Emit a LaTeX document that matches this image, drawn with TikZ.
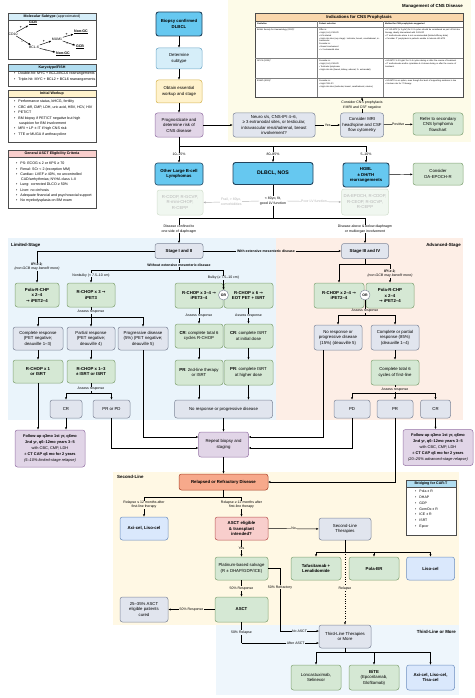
\documentclass[tikz,border=0pt]{standalone}
\usepackage{fontspec}
\setmainfont{Liberation Sans}
\newfontfamily\symf{DejaVu Sans}
\usetikzlibrary{arrows.meta,positioning,calc}

\definecolor{cnsbg}{HTML}{FDFBE8}
\definecolor{limbg}{HTML}{EAF4FB}
\definecolor{advbg}{HTML}{FDEEE6}
\definecolor{secbg}{HTML}{FFF8E4}
\definecolor{thrbg}{HTML}{EEF6FC}
\definecolor{dxfill}{HTML}{66C8F0}
\definecolor{dxline}{HTML}{23445D}
\definecolor{subfill}{HTML}{D6EEF9}
\definecolor{subline}{HTML}{6FA8C8}
\definecolor{wkfill}{HTML}{FFF2CC}
\definecolor{wkline}{HTML}{D6B656}
\definecolor{prfill}{HTML}{E1D5E7}
\definecolor{prline}{HTML}{9673A6}
\definecolor{gyfill}{HTML}{E1E5EE}
\definecolor{gyline}{HTML}{7F8799}
\definecolor{rxfill}{HTML}{D5E8D4}
\definecolor{rxline}{HTML}{82A374}
\definecolor{rrfill}{HTML}{F7A98B}
\definecolor{rrline}{HTML}{A8432B}
\definecolor{pkfill}{HTML}{F8CECC}
\definecolor{pkline}{HTML}{B85450}
\definecolor{ctfill}{HTML}{DAE8FC}
\definecolor{ctline}{HTML}{6C8EBF}
\definecolor{hdblue}{HTML}{B1DDF0}
\definecolor{hdorange}{HTML}{FAD7AC}
\definecolor{fadetxt}{HTML}{B4B4B4}

\newcommand{\fmn}{\fontsize{4.3}{5.5}\selectfont}
\newcommand{\fbg}{\fontsize{5.2}{6}\selectfont}
\newcommand{\fsm}{\fontsize{3.5}{4.3}\selectfont}
\newcommand{\fpn}{\fontsize{3.6}{5.4}\selectfont}
\newcommand{\ftn}{\fontsize{2.1}{2.8}\selectfont}
\newcommand{\ftl}{\fontsize{4.4}{5}\selectfont}
\newcommand{\ffu}{\fontsize{3.9}{5.9}\selectfont}
\newcommand{\sge}{≥}
\newcommand{\sle}{≤}
\newcommand{\sra}{{\symf →}}

\tikzset{
    box/.style={
    rectangle,rounded corners=2.5pt,line width=0.5pt,align=center,inner sep=1pt,font=\fmn
    },
    sz/.style 2 args={minimum width=#1pt,minimum height=#2pt},
    dxbox/.style={box,fill=dxfill,draw=dxline,line width=0.9pt,font=\fmn\bfseries},
    subbox/.style={box,fill=subfill,draw=subline},
    wkbox/.style={box,fill=wkfill,draw=wkline},
    prbox/.style={box,fill=prfill,draw=prline},
    fubox/.style={box,fill=prfill,draw=prline,font=\ffu},
    gybox/.style={box,fill=gyfill,draw=gyline},
    rxbox/.style={box,fill=rxfill,draw=rxline},
    rxbold/.style={rxbox,font=\fmn\bfseries},
    rrbox/.style={box,fill=rrfill,draw=rrline,font=\fmn\bfseries},
    pkbox/.style={box,fill=pkfill,draw=pkline,font=\fmn\bfseries},
    ctbox/.style={box,fill=ctfill,draw=ctline,font=\fmn\bfseries},
    fadebox/.style={box,fill=rxfill!35,draw=rxline!35,text=fadetxt},
    lbl/.style={font=\fsm,inner sep=0.6pt,align=center,fill=white},
    fadelbl/.style={lbl,text=fadetxt},
    fadeline/.style={draw=fadetxt},
    orbox/.style={circle,draw=gyline,fill=white,inner sep=0pt,minimum size=10pt,font=\fsm\bfseries},
    ttl/.style={font=\ftl\bfseries,inner sep=0pt},
    panel/.style={rectangle,draw=black!70,line width=0.4pt,fill=white,minimum width=88pt},
    panelhd/.style={rectangle,draw=black!70,line width=0.4pt,minimum width=88pt,minimum height=7pt,inner sep=0pt,font=\fpn\bfseries},
    bullets/.style={font=\fpn,align=left,inner sep=0pt},
    tree/.style={font=\fsm,inner sep=0.5pt},
    treeout/.style={font=\fpn\bfseries,inner sep=0.5pt},
    sgn/.style={font=\fsm\bfseries,inner sep=0.3pt},
    cell/.style={font=\ftn,align=left,inner sep=0pt,anchor=north west},
}

\begin{document}
\begin{tikzpicture}[x=1pt,y=-1pt,>={Latex[length=2.4pt,width=2.2pt]},line width=0.45pt]
   \useasboundingbox (0,0) rectangle (474,698);
   % areas
   \fill[cnsbg] (228,0) rectangle (471,142);
   \fill[limbg] (8,238) rectangle (276,420);
   \fill[advbg] (276,238) rectangle (463,420);
   \fill[secbg] (113,472) rectangle (459,625);
   \fill[thrbg] (216,625) rectangle (459,695);
   \node[ttl,anchor=east] (CNSTTL) at (463,6) {Management of CNS Disease};
   \node[ttl,anchor=west] (LIMTTL) at (11,245) {Limited-Stage};
   \node[ttl,anchor=east] (ADVTTL) at (461,245) {Advanced-Stage};
   \node[ttl,anchor=west] (SECTTL) at (117,477) {Second-Line};
   \node[ttl,anchor=east] (THRTTL) at (456,632) {Third-Line or More};

   % side panels
   \node[panel,minimum height=46pt] (MOL) at (52,36) {};
   \node[panelhd,fill=subfill,anchor=north] (MOLHD) at (MOL.north) {Molecular Subtype {\mdseries\fsm (approximated)}};
   \node[tree] (CD10) at (13,34) {CD10};
   \node[treeout] (GCBA) at (33,23) {\underline{GCB}};
   \node[tree] (BCL6) at (34,47) {BCL-6};
   \node[tree] (MUM1) at (57,39) {MUM1};
   \node[treeout] (NONGCA) at (81,32) {\underline{Non-GC}};
   \node[treeout] (GCBB) at (80,47) {\underline{GCB}};
   \node[treeout] (NONGCB) at (63,54) {\underline{Non-GC}};
   \path[->]
             (CD10)  edge node[sgn,above left] {+} (GCBA)
                     edge node[sgn,below left] {--} (BCL6)
             (BCL6)  edge node[sgn,above left] {+} (MUM1)
                     edge node[sgn,below left] {--} (NONGCB)
             (MUM1)  edge node[sgn,above left] {+} (NONGCA)
                     edge node[sgn,below left] {--} (GCBB);

   \node[panel,minimum height=22pt] (KARYO) at (52,75) {};
   \node[panelhd,fill=hdblue,anchor=north] (KARYOHD) at (KARYO.north) {Karyotype/FISH};
   \node[bullets,anchor=north west] (KARYOTXT) at (14,72) {\textbullet\hspace{3pt}Double-hit: MYC + BCL2/BCL6 rearrangements\\\textbullet\hspace{3pt}Triple-hit: MYC + BCL2 + BCL6 rearrangements};

   \node[panel,minimum height=52pt] (WORK) at (52,116) {};
   \node[panelhd,fill=wkfill,anchor=north] (WORKHD) at (WORK.north) {Initial Workup};
   \node[bullets,anchor=north west] (WORKTXT) at (14,100) {\textbullet\hspace{3pt}Performance status, bHCG, fertility\\
     \textbullet\hspace{3pt}CBC diff, CMP, LDH, uric acid, HBV, HCV, HIV\\
     \textbullet\hspace{3pt}PET/CT\\
     \textbullet\hspace{3pt}BM biopsy if PET/CT negative but high\\\hspace*{5pt}suspicion for BM involvement\\
     \textbullet\hspace{3pt}MRI + LP ± IT if high CNS risk\\
     \textbullet\hspace{3pt}TTE or MUGA if anthracycline};

   \node[panel,minimum height=58pt] (ELIG) at (52,179) {};
   \node[panelhd,fill=pkfill,anchor=north] (ELIGHD) at (ELIG.north) {General ASCT Eligibility Criteria};
   \node[bullets,anchor=north west,font=\fontsize{3.6}{5.3}\selectfont] (ELIGTXT) at (16,162) {\textbullet\hspace{3pt}PS: ECOG \sle\ 2 or KPS \sge\ 70\\
     \textbullet\hspace{3pt}Renal: SCr < 2 (exception MM)\\
     \textbullet\hspace{3pt}Cardiac: LVEF \sge\ 40\%, no uncontrolled\\\hspace*{5pt}CAD/arrhythmias; NYHA class I--II\\
     \textbullet\hspace{3pt}Lung: corrected DLCO \sge\ 50\%\\
     \textbullet\hspace{3pt}Liver: no cirrhosis\\
     \textbullet\hspace{3pt}Adequate financial and psychosocial support\\
     \textbullet\hspace{3pt}No myelodysplasia on BM exam};

   % CNS prophylaxis table
   \node[panel,minimum width=208pt,minimum height=84pt] (CNSTAB) at (359,55) {};
   \node[panelhd,fill=hdorange,minimum width=208pt,minimum height=8pt,anchor=north,font=\fmn\bfseries] (CNSHD) at (CNSTAB.north) {Indications for CNS Prophylaxis};
   \draw[black!50,line width=0.3pt] (255,27) -- (463,27) (255,58) -- (463,58) (255,78) -- (463,78)
        (317,21) -- (317,97) (383,21) -- (383,97);
   \node[cell,font=\ftn\bfseries] (COLA) at (257,22.5) {Guideline};
   \node[cell,font=\ftn\bfseries] (COLB) at (319,22.5) {Patient selection};
   \node[cell,font=\ftn\bfseries] (COLC) at (385,22.5) {Method for CNS prophylaxis suggested};
   \node[cell,text width=57pt] (GLA) at (257,29) {British Society for Haematology (2020)*};
   \node[cell,text width=62pt] (SELA) at (319,29) {Offer in:\\\textbullet\ High (4--6) CNS-IPI\\\textbullet\ HIV-related\\\textbullet\ High risk sites (any stage): testicular, breast, renal/adrenal, intravascular\\Consider in:\\\textbullet\ Breast involvement\\\textbullet\ \sge\ 2 extranodal sites};
   \node[cell,text width=76pt] (METHA) at (385,29) {\textbullet\ IV HD-MTX (\sge\ 3 g/m²) for 2--3 cycles should be considered as part of first-line therapy, ideally intercalated with R-CHOP\\\textbullet\ IT methotrexate alone is not recommended (limited efficacy data)\\\textbullet\ Consider IT prophylaxis in patients unable to tolerate HD-MTX};
   \node[cell,text width=57pt] (GLB) at (257,60) {NCCN (2023)*};
   \node[cell,text width=62pt] (SELB) at (319,60) {Consider in:\\\textbullet\ High (4--6) CNS-IPI\\\textbullet\ Testicular lymphoma\\\textbullet\ High risk site (breast, kidney, adrenal, 2+ extranodal)};
   \node[cell,text width=76pt] (METHB) at (385,60) {\textbullet\ HD-MTX 3--3.5 g/m² for 2--4 cycles during or after the course of treatment\\\textbullet\ IT methotrexate and/or cytarabine 4--8 doses during or after the course of treatment};
   \node[cell,text width=57pt] (GLC) at (257,80) {ESMO (2015)*};
   \node[cell,text width=62pt] (SELC) at (319,80) {Consider in:\\\textbullet\ High CNS-IPI\\\textbullet\ High risk sites (testicular, breast, renal/adrenal, uterine)};
   \node[cell,text width=76pt] (METHC) at (385,80) {\textbullet\ HD-MTX is an option, even though the level of supporting evidence is low\\\textbullet\ Unclear role for IT therapy};

   % diagnosis
   \node[dxbox,sz={46}{24}] (BIOPSY) at (179,24) {Biopsy confirmed\\DLBCL};
   \node[subbox,sz={46}{21}] (SUBTYPE) at (179,58.5) {Determine\\subtype};
   \node[wkbox,sz={46}{23}] (WORKUP) at (179,91.5) {Obtain essential\\workup and stage};
   \node[prbox,sz={48}{24}] (PROGN) at (179,125) {Prognosticate and\\determine risk of\\CNS disease};
   \node[gybox,sz={82}{24}] (NEURO) at (274,125) {Neuro s/s, CNS-IPI 4--6,\\\sge\ 3 extranodal sites, or testicular,\\intravascular renal/adrenal, breast\\involvement?};
   \node[gybox,sz={43}{24}] (MRI) at (362,125) {Consider MRI\\head/spine and CSF\\flow cytometry};
   \node[rxbox,sz={50}{22}] (REFER) at (438,124) {Refer to secondary\\CNS lymphoma\\flowchart};

   \path[->] (BIOPSY) edge (SUBTYPE)
             (SUBTYPE) edge (WORKUP)
             (WORKUP) edge (PROGN)
             (PROGN) edge (NEURO)
             (NEURO) edge node[lbl,fill=cnsbg] {Yes} (MRI)
             (MRI) edge node[lbl,fill=cnsbg] {Positive} (REFER);
   \draw[->] (MRI.north) -- node[lbl,fill=cnsbg] {Consider CNS prophylaxis\\if MRI and CSF negative} (MRI.north |- CNSTAB.south);

   \node[dxbox,sz={48}{22},line width=0.6pt] (OTHER) at (179,174) {Other Large B-cell\\Lymphomas};
   \node[dxbox,sz={80}{22},font=\fbg\bfseries] (DLBCL) at (273,173.5) {DLBCL, NOS};
   \node[dxbox,sz={46}{24}] (HGBL) at (366,175) {HGBL\\± DH/TH\\rearrangements};
   \node[rxbox,sz={50}{22}] (DAEPOCH) at (438,174) {Consider\\DA-EPOCH-R};
   \coordinate (SPLIT) at (179,146);
   \draw (PROGN) -- (SPLIT);
   \draw[->] (SPLIT) -- node[lbl] {10--15\%} (OTHER);
   \draw[->] (SPLIT) -| node[lbl,pos=0.75] {80--85\%} (DLBCL.north);
   \draw[->] (SPLIT) -| node[lbl,pos=0.75] {5--10\%} (HGBL.north);
   \draw[->] (HGBL) -- (DAEPOCH);

   \node[fadebox,sz={46}{25}] (FADEL) at (180,202.5) {R-CDOP, R-GCVP,\\R-mini-CHOP,\\R-CEPP};
   \node[fadebox,sz={47}{26}] (FADER) at (365,202) {DA-EPOCH, R-CDOP,\\R-CEOP, R-GCVP,\\R-CEPP};
   \node[lbl] (FIT) at (273,201) {< 80yo, fit,\\good LV function};
   \coordinate (SPLITB) at (273,218);
   \draw (DLBCL) -- (FIT);
   \draw (FIT) -- (SPLITB);
   \draw[fadeline,->] (FIT.west) -- node[fadelbl] {Frail, > 80yo,\\comorbidities} (FADEL.east);
   \draw[fadeline,->] (FIT.east) -- node[fadelbl] {Poor LV function} (FADER.west);

   % staging
   \node[gybox,sz={48}{15},font=\fmn\bfseries] (STAGEA) at (179,251) {Stage I and II};
   \node[gybox,sz={47}{15},font=\fmn\bfseries] (STAGEB) at (365,251) {Stage III and IV};
   \draw[->] (SPLITB) -| node[lbl,pos=0.72] {Disease confined to\\one side of diaphragm} (STAGEA.north);
   \draw[->] (SPLITB) -| node[lbl,pos=0.72] {Disease above \& below diaphragm\\or multiorgan involvement} (STAGEB.north);
   \node[lbl,fill=none,font=\fsm\bfseries] (MESEN) at (266,251) {With extensive mesenteric disease};
   \draw (STAGEA) -- (MESEN);
   \draw[->] (MESEN) -- (STAGEB);

   % limited stage
   \node[lbl,fill=none,font=\fsm\bfseries] (NOMES) at (179,265) {Without extensive mesenteric disease};
   \coordinate (BULKJ) at (179,270);
   \draw (STAGEA) -- (NOMES);
   \draw (NOMES) -- (BULKJ);
   \node[rxbold,sz={44}{24}] (POLAA) at (37,295) {Pola-R-CHP\\x 2--4\\\sra\ iPET2--4};
   \node[rxbold,sz={48}{24}] (RCHOPA) at (91,295) {R-CHOP x 3 \sra\\iPET3};
   \node[rxbold,sz={48}{25}] (RCHOPB) at (199,295.5) {R-CHOP x 3--4 \sra\\iPET3--4};
   \node[rxbold,sz={49}{25}] (RCHOPC) at (248.5,295.5) {R-CHOP x 6 \sra\\EOT PET + ISRT};
   \node[orbox] (ORA) at (223.5,295) {OR};
   \draw[->] (STAGEA.west) -| node[lbl,fill=limbg,pos=0.75] {\textbf{IPI \sge\ 2;}\\\textit{(non-GCB may benefit more)}} (POLAA.north);
   \draw[->] (BULKJ) -| node[lbl,fill=limbg,pos=0.7] {Nonbulky (< 7.5--10 cm)} (RCHOPA.north);
   \draw[->] (BULKJ) -| node[lbl,fill=limbg,pos=0.7] {Bulky (\sge\ 7.5--10 cm)} (ORA.north);

   \node[lbl,fill=limbg] (ASSLA) at (91,312) {Assess response};
   \coordinate (RESPJA) at (91,317);
   \draw (RCHOPA) -- (ASSLA);
   \draw (ASSLA) -- (RESPJA);
   \node[gybox,sz={50}{23}] (CRESP) at (38,338.5) {Complete response\\(PET negative;\\deauville 1--3)};
   \node[gybox,sz={48}{23}] (PRESP) at (91,338.5) {Partial response\\(PET negative;\\deauville 4)};
   \node[gybox,sz={50}{23}] (PROG) at (143,338.5) {Progressive disease\\(5\%) (PET negative;\\deauville 5)};
   \draw[->] (RESPJA) -| (CRESP.north);
   \draw[->] (RESPJA) -- (PRESP);
   \draw[->] (RESPJA) -| (PROG.north);
   \node[rxbold,sz={50}{23}] (RCHOPD) at (38,371.5) {R-CHOP x 1\\or ISRT};
   \node[rxbold,sz={48}{23}] (RCHOPE) at (91,371.5) {R-CHOP x 1--3\\± ISRT or ISRT};
   \draw[->] (CRESP) -- (RCHOPD);
   \draw[->] (PRESP) -- (RCHOPE);
   \node[lbl,fill=limbg] (ASSLB) at (91,389) {Assess response};
   \coordinate (RESPJB) at (91,393);
   \draw (RCHOPE) -- (ASSLB);
   \draw (ASSLB) -- (RESPJB);
   \node[gybox,sz={32}{18}] (CRL) at (66,409) {CR};
   \node[gybox,sz={37}{18}] (PRPD) at (111.5,409) {PR or PD};
   \draw[->] (RESPJB) -| (CRL.north);
   \draw[->] (RESPJB) -| (PRPD.north);
   \node[fubox,sz={70}{37}] (FOLLOWA) at (50,448.5) {\textbf{Follow-up q3mo 1st yr, q6mo}\\\textbf{2nd yr, q6--12mo years 3--5}\\with CBC, CMP, LDH\\± \textbf{CT CAP q6 mo for 2 years}\\\textit{(5--10\% limited-stage relapse)}};
   \draw[->] (RCHOPD) -- (RCHOPD |- FOLLOWA.north);
   \draw[->] (CRL) -- (CRL |- FOLLOWA.north);

   \node[lbl,fill=limbg] (ASSBA) at (199,316) {Assess response};
   \node[lbl,fill=limbg] (ASSBB) at (248.5,316) {Assess response};
   \node[rxbox,sz={48}{24}] (CRSIX) at (199,336) {\textbf{CR}: complete total 6\\cycles R-CHOP};
   \node[rxbox,sz={49}{24}] (CRISRT) at (248.5,336) {\textbf{CR}: complete ISRT\\at initial dose};
   \node[rxbox,sz={48}{25}] (PRSEC) at (199,372.5) {\textbf{PR}: 2nd-line therapy\\or ISRT};
   \node[rxbox,sz={49}{25}] (PRISRT) at (248.5,372.5) {\textbf{PR}: complete ISRT\\at higher dose};
   \node[gybox,sz={98}{18}] (NORESPA) at (223.5,409) {No response or progressive disease};
   \node[prbox,sz={50}{25}] (REPEAT) at (223.5,444.5) {Repeat biopsy and\\staging};
   \draw (RCHOPB) -- (ASSBA);
   \draw (RCHOPC) -- (ASSBB);
   \path[->] (ASSBA) edge (CRSIX)
             (ASSBB) edge (CRISRT)
             (CRSIX) edge (PRSEC)
             (CRISRT) edge (PRISRT)
             (PRSEC) edge (PRSEC |- NORESPA.north)
             (PRISRT) edge (PRISRT |- NORESPA.north)
             (NORESPA) edge (REPEAT);
   \coordinate (REPINA) at (198.5,437);
   \coordinate (REPINB) at (198.5,448);
   \coordinate (REPINC) at (248.5,437);
   \coordinate (REPIND) at (248.5,448);
   \draw[->] (PROG) |- (REPINA);
   \draw[->] (PRPD) |- (REPINB);

   % advanced stage
   \coordinate (IPIJ) at (365,264);
   \node[rxbold,sz={50}{25}] (RCHOPF) at (339,295.5) {R-CHOP x 2--4 \sra\\iPET2--4};
   \node[rxbold,sz={48}{25}] (POLAB) at (390,295.5) {Pola-R-CHP\\x 2--4\\\sra\ iPET2--4};
   \node[orbox] (ORB) at (365,295) {OR};
   \draw (STAGEB) -- (IPIJ);
   \draw[->] (IPIJ) -| (RCHOPF.north);
   \draw[->] (IPIJ) -| node[lbl,fill=advbg,pos=0.75] {\textbf{IPI \sge\ 2;}\\\textit{(non-GCB may benefit more)}} (POLAB.north);
   \node[lbl,fill=advbg] (ASSAA) at (365,311) {Assess response};
   \coordinate (ADVJA) at (365,315.5);
   \draw (ORB) -- (ASSAA);
   \draw (ASSAA) -- (ADVJA);
   \node[gybox,sz={48}{25}] (NORESPB) at (338,337.5) {No response or\\progressive disease\\(15\%) (deauville 5)};
   \node[gybox,sz={48}{25}] (CPR) at (395,337.5) {Complete or partial\\response (85\%)\\(deauville 1--4)};
   \draw[->] (ADVJA) -| (NORESPB.north);
   \draw[->] (ADVJA) -| (CPR.north);
   \node[rxbox,sz={48}{25}] (SIXCYC) at (395,372.5) {Complete total 6\\cycles of first-line};
   \draw[->] (CPR) -- (SIXCYC);
   \node[lbl,fill=advbg] (ASSAB) at (395,389.5) {Assess response};
   \coordinate (ADVJB) at (395,393.5);
   \draw (SIXCYC) -- (ASSAB);
   \draw (ASSAB) -- (ADVJB);
   \node[gybox,sz={36}{18}] (PDA) at (352,409) {PD};
   \node[gybox,sz={36}{18}] (PRA) at (395,409) {PR};
   \node[gybox,sz={30}{18}] (CRA) at (435.5,409) {CR};
   \draw[->] (ADVJB) -| (PDA.north);
   \draw[->] (ADVJB) -- (PRA);
   \draw[->] (ADVJB) -| (CRA.north);
   \node[fubox,sz={70}{36}] (FOLLOWB) at (438,447.5) {\textbf{Follow-up q3mo 1st yr, q6mo}\\\textbf{2nd yr, q6--12mo years 3--5}\\with CBC, CMP, LDH\\± \textbf{CT CAP q6 mo for 2 years}\\\textit{(20--25\% advanced-stage relapse)}};
   \draw[->] (CRA) -- (CRA |- FOLLOWB.north);
   \coordinate (NRBOUT) at (323,350);
   \draw[->] (NRBOUT) |- (REPINC);
   \draw[->] (PDA) |- (REPIND);

   % relapsed / refractory
   \node[rrbox,sz={89}{16}] (RELAPSE) at (223.5,482) {Relapsed or Refractory Disease};
   \coordinate (RELIN) at (268,482);
   \draw[->] (REPEAT) -- (RELAPSE);
   \draw[->] (PRA) |- (RELIN);
   \coordinate (RELJ) at (223.5,497);
   \draw (RELAPSE) -- (RELJ);
   \node[ctbox,sz={48}{23}] (AXIA) at (144,528.5) {Axi-cel, Liso-cel};
   \node[pkbox,sz={53}{23}] (ASCTQ) at (241.5,528.5) {ASCT eligible\\\& transplant\\intended?};
   \draw[->] (RELJ) -| node[lbl,fill=secbg,pos=0.7] {Relapse \sle\ 12 months after\\first-line therapy} (AXIA.north);
   \draw[->] (RELJ) -| node[lbl,fill=secbg,pos=0.7] {Relapse \sge\ 12 months after\\first-line therapy} (ASCTQ.north);
   \node[gybox,sz={52}{22}] (SECOND) at (345,529) {Second-Line\\Therapies};
   \node[rxbox,sz={53}{23}] (PLAT) at (241.5,568.5) {Platinum-based salvage\\(R ± DHAP/GDP/ICE)};
   \node[rxbold,sz={53}{25}] (ASCT) at (241.5,609.5) {ASCT};
   \node[gybox,sz={48}{25}] (CURED) at (144,609.5) {25--35\% ASCT\\eligible patients\\cured};
   \path[->] (ASCTQ) edge node[lbl,fill=secbg] {No} (SECOND)
             (ASCTQ) edge node[lbl,fill=secbg] {Yes} (PLAT)
             (PLAT) edge node[lbl,fill=secbg] {50\% Response} (ASCT)
             (ASCT) edge node[lbl,fill=secbg] {50\% Response} (CURED);

   \node[box,fill=white,draw=black!70,line width=0.4pt,rounded corners=0pt,sz={50}{55}] (BRIDGE) at (431,507.5) {};
   \node[panelhd,fill=hdblue,minimum width=50pt,anchor=north] (BRIDGEHD) at (BRIDGE.north) {Bridging for CAR-T};
   \node[bullets,anchor=north west,font=\fontsize{3.5}{5.8}\selectfont] (BRIDGETXT) at (415,490) {\textbullet\hspace{3pt}Pola ± R\\\textbullet\hspace{3pt}DHAP\\\textbullet\hspace{3pt}GDP\\\textbullet\hspace{3pt}GemOx ± R\\\textbullet\hspace{3pt}ICE ± R\\\textbullet\hspace{3pt}ISRT\\\textbullet\hspace{3pt}Epcor};

   \coordinate (SECJ) at (345,552);
   \node[rxbold,sz={50}{23}] (TAFA) at (316,568.5) {Tafasitamab +\\Lenalidomide};
   \node[rxbold,sz={50}{23}] (POLABR) at (374,568.5) {Pola-BR};
   \node[ctbox,sz={48}{23}] (LISO) at (430.5,568.5) {Liso-cel};
   \draw (SECOND) -- (SECJ);
   \draw[->] (SECJ) -| (TAFA.north);
   \draw[->] (SECJ) -| (POLABR.north);
   \draw[->] (SECJ) -| (LISO.north);

   % third line
   \node[gybox,sz={52}{23}] (THIRD) at (345,636.5) {Third-Line Therapies\\or More};
   \draw[dotted,->] (SECJ) -- node[lbl,fill=secbg] {Relapse} (THIRD);
   \coordinate (REFRB) at (280,631);
   \coordinate (NOASCTIN) at (319,631);
   \coordinate (RELB) at (241.5,643);
   \coordinate (AFTERIN) at (319,643);
   \draw (PLAT.east) -| node[lbl,fill=secbg,pos=0.65] {50\% Refractory} (REFRB);
   \draw[->] (REFRB) -- node[lbl,fill=thrbg] {No ASCT} (NOASCTIN);
   \draw (ASCT) -- node[lbl,fill=thrbg] {50\% Relapse} (RELB);
   \draw[->] (RELB) -- node[lbl,fill=thrbg,pos=0.7] {After ASCT} (AFTERIN);

   \coordinate (THRJ) at (345,652);
   \node[rxbox,sz={50}{25}] (LONCA) at (316,677.5) {Loncastuximab,\\Selinexor};
   \node[rxbox,sz={50}{25}] (BITE) at (374,677.5) {\textbf{BiTE}\\(Epcoritamab,\\Glofitamab)};
   \node[ctbox,sz={48}{25}] (CARTC) at (430.5,677.5) {Axi-cel, Liso-cel,\\Tisa-cel};
   \draw (THIRD) -- (THRJ);
   \draw[->] (THRJ) -| (LONCA.north);
   \draw[->] (THRJ) -| (BITE.north);
   \draw[->] (THRJ) -| (CARTC.north);
\end{tikzpicture}
\end{document}
